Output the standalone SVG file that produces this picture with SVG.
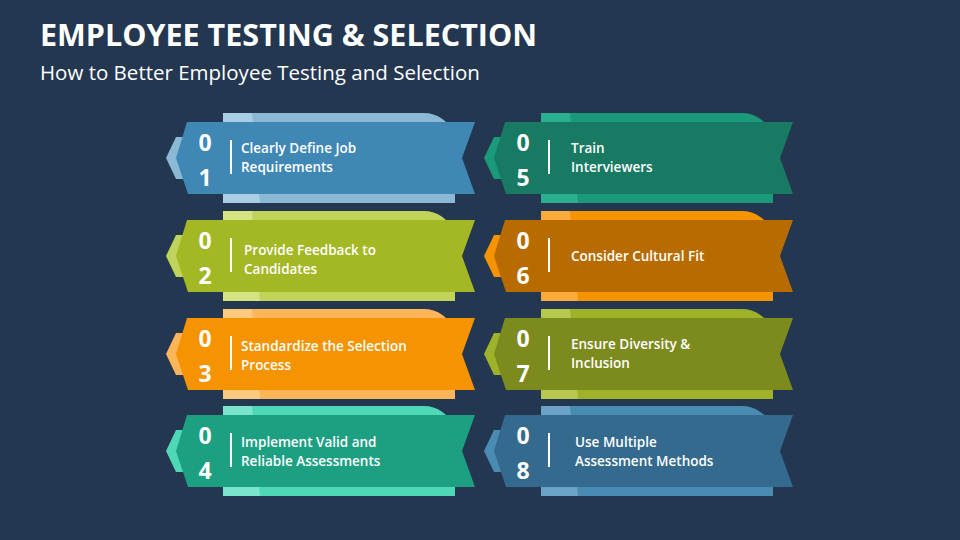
<svg xmlns="http://www.w3.org/2000/svg" width="960" height="540" viewBox="0 0 960 540">
<defs>
<style>
.t{font-family:"Open Sans","Liberation Sans",sans-serif;fill:#fff}
.d{font-size:23px;font-weight:700;text-anchor:middle}
.l{font-size:13.5px;font-weight:600}
.v{stroke:#fff;stroke-width:2}
</style>
<path id="back" d="M63,3 H262 A33,33 0 0 1 295,26 V93 H63 Z"/>
<path id="band" d="M63,3 H92 L100,93 H63 Z"/>
<path id="chev" d="M16,27 L6,48 L16,69 H32 V27 Z"/>
<path id="main" d="M27,12 H315 L302,48 L315,84 H28 L16,48 Z"/>
</defs>
<rect width="960" height="540" fill="#243750"/>
<text class="t" x="40" y="46" font-size="30.5" font-weight="700">EMPLOYEE TESTING &amp; SELECTION</text>
<text class="t" x="40" y="80" font-size="20.5" font-weight="500">How to Better Employee Testing and Selection</text>
<g id="card1" transform="translate(160,110)">
<use href="#back" fill="#8AB8D5"/><use href="#band" fill="#A9CDE2"/><use href="#chev" fill="#8AB8D5"/><use href="#main" fill="#3F88B5"/>
<text class="t d" x="45" y="41">0</text><text class="t d" x="45" y="76">1</text><line class="v" x1="71" y1="30" x2="71" y2="64"/>
<text class="t l" x="81" y="43">Clearly Define Job</text><text class="t l" x="81" y="62">Requirements</text></g>
<g id="card2" transform="translate(160,208)">
<use href="#back" fill="#C2D35A"/><use href="#band" fill="#D6E383"/><use href="#chev" fill="#C2D35A"/><use href="#main" fill="#A3B824"/>
<text class="t d" x="45" y="41">0</text><text class="t d" x="45" y="76">2</text><line class="v" x1="71" y1="30" x2="71" y2="64"/>
<text class="t l" x="84" y="47">Provide Feedback to</text><text class="t l" x="84" y="66">Candidates</text></g>
<g id="card3" transform="translate(160,306)">
<use href="#back" fill="#FDB55A"/><use href="#band" fill="#FFC97E"/><use href="#chev" fill="#FDB55A"/><use href="#main" fill="#F59300"/>
<text class="t d" x="45" y="41">0</text><text class="t d" x="45" y="76">3</text><line class="v" x1="71" y1="30" x2="71" y2="64"/>
<text class="t l" x="81" y="45">Standardize the Selection</text><text class="t l" x="81" y="64">Process</text></g>
<g id="card4" transform="translate(160,403)">
<use href="#back" fill="#4FD8B6"/><use href="#band" fill="#7BE5CB"/><use href="#chev" fill="#4FD8B6"/><use href="#main" fill="#1DA082"/>
<text class="t d" x="45" y="41">0</text><text class="t d" x="45" y="76">4</text><line class="v" x1="71" y1="30" x2="71" y2="64"/>
<text class="t l" x="81" y="44">Implement Valid and</text><text class="t l" x="81" y="63">Reliable Assessments</text></g>
<g id="card5" transform="translate(478,110)">
<use href="#back" fill="#1B9A7A"/><use href="#band" fill="#29B08E"/><use href="#chev" fill="#1B9A7A"/><use href="#main" fill="#187A62"/>
<text class="t d" x="45" y="41">0</text><text class="t d" x="45" y="76">5</text><line class="v" x1="71" y1="30" x2="71" y2="64"/>
<text class="t l" x="93" y="43">Train</text><text class="t l" x="93" y="62">Interviewers</text></g>
<g id="card6" transform="translate(478,208)">
<use href="#back" fill="#F59300"/><use href="#band" fill="#F9AA3A"/><use href="#chev" fill="#F59300"/><use href="#main" fill="#B86C00"/>
<text class="t d" x="45" y="41">0</text><text class="t d" x="45" y="76">6</text><line class="v" x1="71" y1="30" x2="71" y2="64"/>
<text class="t l" x="93" y="53">Consider Cultural Fit</text></g>
<g id="card7" transform="translate(478,306)">
<use href="#back" fill="#A0B22A"/><use href="#band" fill="#B7C84E"/><use href="#chev" fill="#A0B22A"/><use href="#main" fill="#7C8A1E"/>
<text class="t d" x="45" y="41">0</text><text class="t d" x="45" y="76">7</text><line class="v" x1="71" y1="30" x2="71" y2="64"/>
<text class="t l" x="93" y="43">Ensure Diversity &amp;</text><text class="t l" x="93" y="62">Inclusion</text></g>
<g id="card8" transform="translate(478,403)">
<use href="#back" fill="#4A8BB4"/><use href="#band" fill="#6AA3C6"/><use href="#chev" fill="#4A8BB4"/><use href="#main" fill="#336A8D"/>
<text class="t d" x="45" y="41">0</text><text class="t d" x="45" y="76">8</text><line class="v" x1="71" y1="30" x2="71" y2="64"/>
<text class="t l" x="97" y="44">Use Multiple</text><text class="t l" x="97" y="63">Assessment Methods</text></g>
<g id="connectors"/>
</svg>
